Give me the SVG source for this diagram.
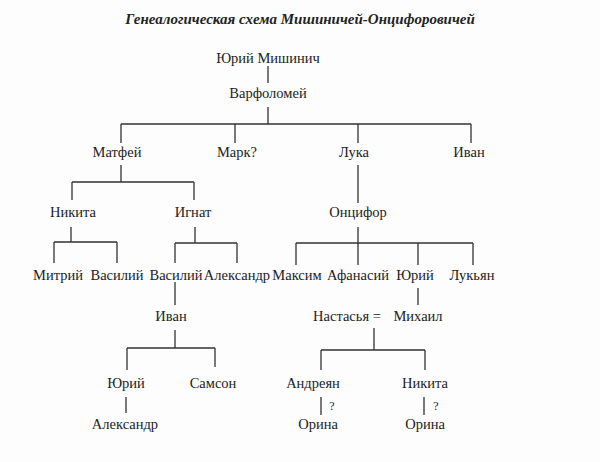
<svg xmlns="http://www.w3.org/2000/svg" width="600" height="462" viewBox="0 0 600 462" font-family="'Liberation Serif','DejaVu Serif','Times New Roman',serif">
<style>
text{font-family:"Liberation Serif","DejaVu Serif","Times New Roman",serif;font-size:14.5px;fill:#222;text-anchor:middle}
.t{font-size:15px;font-weight:bold;font-style:italic}
#c path{stroke:#333;stroke-width:1.3;fill:none}
</style>
<rect width="600" height="462" fill="#fdfdfd"/>
<text class="t" x="300" y="24">Генеалогическая схема Мишиничей-Онцифоровичей</text>
<g id="c">
<path d="M268 66V83M268 107V124M121 124H471M121 124V143M235 124V143M358 124V143M471 124V143"/>
<path d="M121 165V182M72 182H194M72 182V200M194 182V200M358 165V203"/>
<path d="M71 227V242M54 242H117M54 242V263M117 242V263M195 227V243M175 243H237M175 243V263M237 243V263"/>
<path d="M358 227V243M296 243H473M296 243V265M358 243V265M418 243V265M473 243V265"/>
<path d="M175 282V305M175 330V348M127 348H215M127 348V370M215 348V367M126 397V413"/>
<path d="M418 288V305M374 328V350M321 350H425M321 350V370M425 350V370M321 397V415M424 397V415"/>
</g>
<g id="n1"><text x="268" y="63">Юрий Мишинич</text></g>
<g id="n2"><text x="268" y="98">Варфоломей</text></g>
<g id="n3"><text x="117" y="157">Матфей</text></g>
<g id="n4"><text x="237" y="157">Марк?</text></g>
<g id="n5"><text x="354" y="157">Лука</text></g>
<g id="n6"><text x="469" y="157">Иван</text></g>
<g id="n7"><text x="73" y="217">Никита</text></g>
<g id="n8"><text x="193" y="217">Игнат</text></g>
<g id="n9"><text x="358" y="217">Онцифор</text></g>
<g id="n10"><text x="58" y="280">Митрий</text></g>
<g id="n11"><text x="117" y="280">Василий</text></g>
<g id="n12"><text x="176" y="280">Василий</text></g>
<g id="n13"><text x="237" y="280">Александр</text></g>
<g id="n14"><text x="297" y="280">Максим</text></g>
<g id="n15"><text x="358" y="280">Афанасий</text></g>
<g id="n16"><text x="415" y="280">Юрий</text></g>
<g id="n17"><text x="472" y="280">Лукьян</text></g>
<g id="n18"><text x="171" y="321">Иван</text></g>
<g id="n19"><text x="347" y="321">Настасья =</text></g>
<g id="n20"><text x="418" y="321">Михаил</text></g>
<g id="n21"><text x="126" y="388">Юрий</text></g>
<g id="n22"><text x="213" y="388">Самсон</text></g>
<g id="n23"><text x="313" y="388">Андреян</text></g>
<g id="n24"><text x="425" y="388">Никита</text></g>
<g id="n25"><text x="125" y="429">Александр</text></g>
<g id="n26"><text x="318" y="429">Орина</text><text x="332" y="410" style="font-size:12px">?</text></g>
<g id="n27"><text x="425" y="429">Орина</text><text x="436" y="410" style="font-size:12px">?</text></g>
</svg>
